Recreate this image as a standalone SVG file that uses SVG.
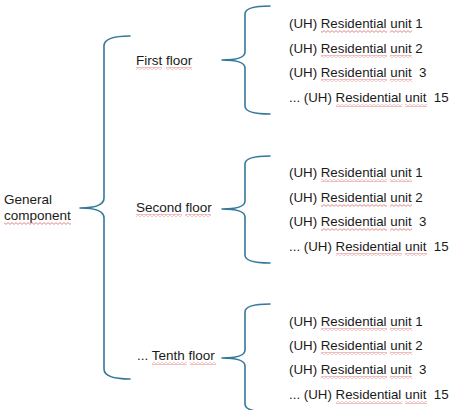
<svg xmlns="http://www.w3.org/2000/svg" width="474" height="410" viewBox="0 0 474 410">
  <style>
    .brace { fill: none; stroke: #35789a; stroke-width: 1.6; stroke-linejoin: round; stroke-linecap: round; }
    .lbl { font-family: "Liberation Sans", Arial, sans-serif; font-size: 13.5px; fill: #1a1a1a; }
    .unit { font-family: "Liberation Sans", Arial, sans-serif; font-size: 13.3px; fill: #1a1a1a; }
    .sq { fill: url(#squig); }
  </style>
  <defs>
    <pattern id="squig" width="4" height="3" patternUnits="userSpaceOnUse">
      <path d="M0,0.6 L2,2.4 L4,0.6" fill="none" stroke="#e06a6a" stroke-width="0.8"/>
    </pattern>
  </defs>
  <rect width="474" height="410" fill="#ffffff"/>

  <g id="connectors">
    <path class="brace" d="M130,36 Q104,36 104,46 L104,198 Q104,208 80,208 Q104,208 104,218 L104,369 Q104,379 130,379"/>
    <path class="brace" d="M270,6 Q245,6 245,14 L245,52 Q245,60 222,60 Q245,60 245,68 L245,106 Q245,114 270,114"/>
    <path class="brace" d="M270,156 Q245,156 245,164 L245,201 Q245,209 222,209 Q245,209 245,217 L245,255 Q245,263 270,263"/>
    <path class="brace" d="M270,304 Q245,304 245,312 L245,350 Q245,358 222,358 Q245,358 245,366 L245,404 Q245,412 270,412"/>
  </g>

  <g id="general">
    <text class="lbl" x="4" y="204">General</text>
    <text class="lbl" x="4" y="220">component</text>
    <rect class="sq" x="4" y="222" width="67" height="3"/>
  </g>

  <g id="floor1">
    <text class="lbl" x="136" y="65">First floor</text>
    <rect class="sq" x="136" y="67" width="26" height="3"/>
    <rect class="sq" x="166" y="67" width="26" height="3"/>
  </g>
  <g id="floor2">
    <text class="lbl" x="136" y="212">Second floor</text>
    <rect class="sq" x="136" y="214" width="46" height="3"/>
    <rect class="sq" x="185" y="214" width="26" height="3"/>
  </g>
  <g id="floor10">
    <text class="lbl" x="137" y="360">... Tenth floor</text>
    <rect class="sq" x="152" y="362" width="35" height="3"/>
    <rect class="sq" x="190" y="362" width="26" height="3"/>
  </g>

  <g id="units1">
    <text class="unit" x="289" y="28" xml:space="preserve">(UH) Residential unit 1</text>
    <text class="unit" x="289" y="53" xml:space="preserve">(UH) Residential unit 2</text>
    <text class="unit" x="289" y="77" xml:space="preserve">(UH) Residential unit  3</text>
    <text class="unit" x="289" y="102" xml:space="preserve">... (UH) Residential unit  15</text>
    <rect class="sq" x="321" y="30" width="66" height="3"/><rect class="sq" x="390" y="30" width="22" height="3"/>
    <rect class="sq" x="321" y="55" width="66" height="3"/><rect class="sq" x="390" y="55" width="22" height="3"/>
    <rect class="sq" x="321" y="79" width="66" height="3"/><rect class="sq" x="390" y="79" width="22" height="3"/>
    <rect class="sq" x="336" y="104" width="66" height="3"/><rect class="sq" x="405" y="104" width="22" height="3"/>
  </g>

  <g id="units2">
    <text class="unit" x="289" y="177" xml:space="preserve">(UH) Residential unit 1</text>
    <text class="unit" x="289" y="202" xml:space="preserve">(UH) Residential unit 2</text>
    <text class="unit" x="289" y="226" xml:space="preserve">(UH) Residential unit  3</text>
    <text class="unit" x="289" y="251" xml:space="preserve">... (UH) Residential unit  15</text>
    <rect class="sq" x="321" y="179" width="66" height="3"/><rect class="sq" x="390" y="179" width="22" height="3"/>
    <rect class="sq" x="321" y="204" width="66" height="3"/><rect class="sq" x="390" y="204" width="22" height="3"/>
    <rect class="sq" x="321" y="228" width="66" height="3"/><rect class="sq" x="390" y="228" width="22" height="3"/>
    <rect class="sq" x="336" y="253" width="66" height="3"/><rect class="sq" x="405" y="253" width="22" height="3"/>
  </g>

  <g id="units10">
    <text class="unit" x="289" y="326" xml:space="preserve">(UH) Residential unit 1</text>
    <text class="unit" x="289" y="350" xml:space="preserve">(UH) Residential unit 2</text>
    <text class="unit" x="289" y="374" xml:space="preserve">(UH) Residential unit  3</text>
    <text class="unit" x="289" y="399" xml:space="preserve">... (UH) Residential unit  15</text>
    <rect class="sq" x="321" y="328" width="66" height="3"/><rect class="sq" x="390" y="328" width="22" height="3"/>
    <rect class="sq" x="321" y="352" width="66" height="3"/><rect class="sq" x="390" y="352" width="22" height="3"/>
    <rect class="sq" x="321" y="376" width="66" height="3"/><rect class="sq" x="390" y="376" width="22" height="3"/>
    <rect class="sq" x="336" y="401" width="66" height="3"/><rect class="sq" x="405" y="401" width="22" height="3"/>
  </g>
</svg>
